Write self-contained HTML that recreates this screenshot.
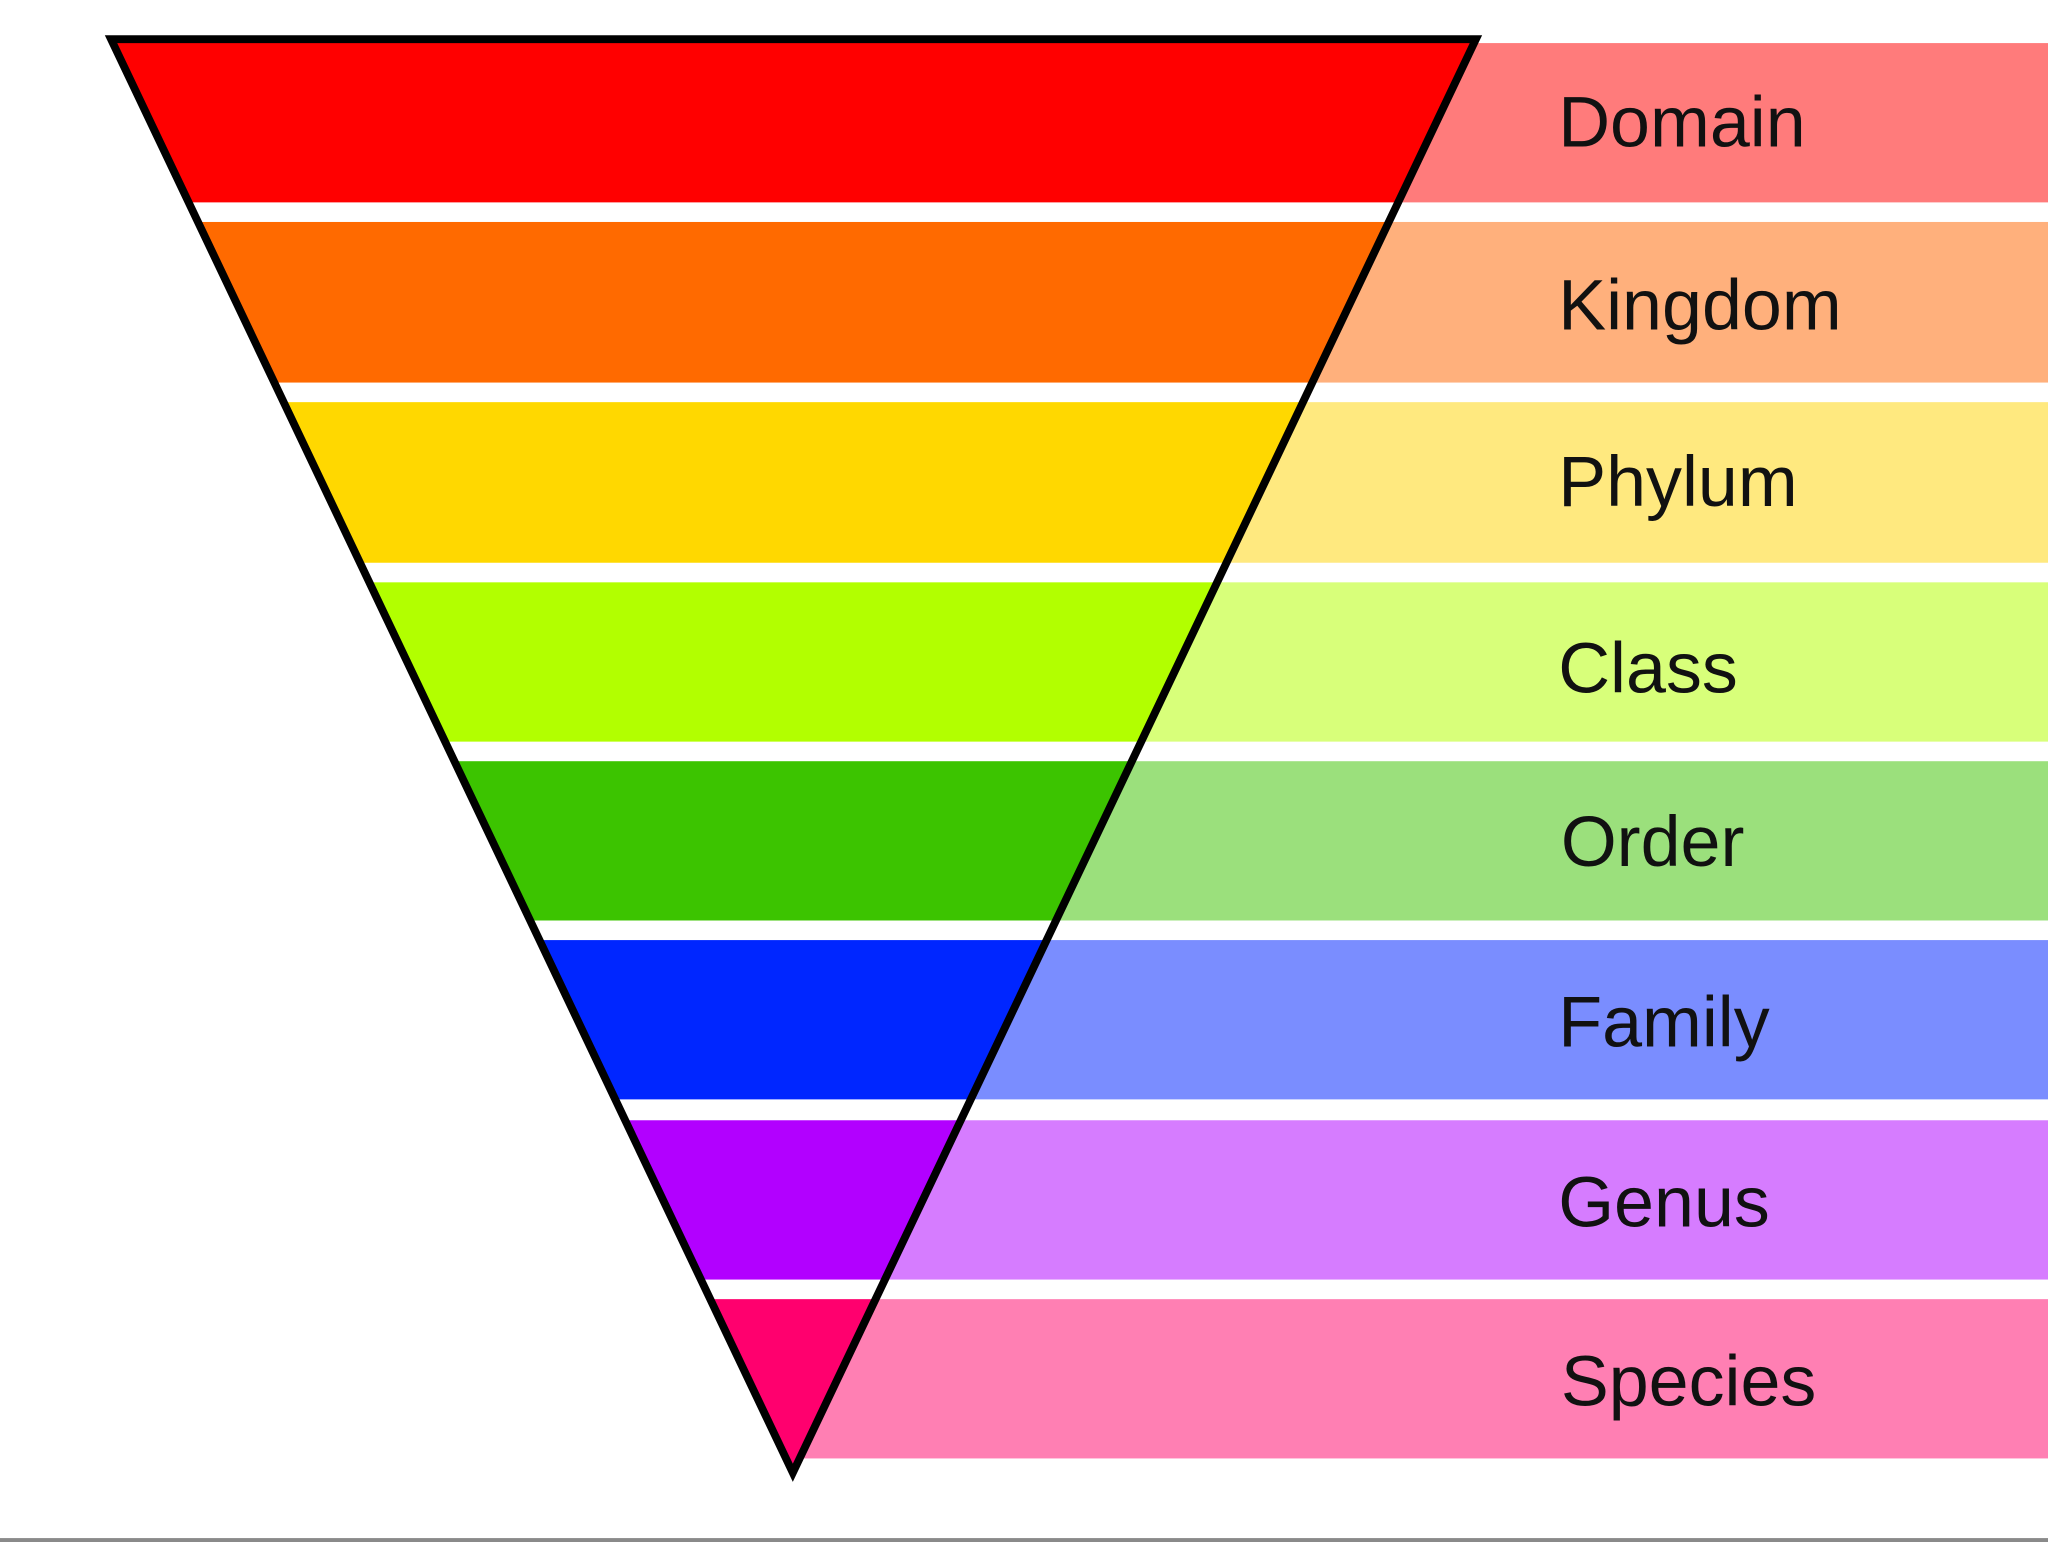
<!DOCTYPE html>
<html><head><meta charset="utf-8"><style>html,body{margin:0;padding:0;background:#fff}svg{display:block}</style></head>
<body>
<svg width="2048" height="1542" viewBox="0 0 1568 1181" preserveAspectRatio="none" xmlns="http://www.w3.org/2000/svg">
<defs><clipPath id="tri"><polygon points="85,30 1130,30 607,1128"/></clipPath></defs>
<rect width="1568" height="1181" fill="#fff"/>
<g>
<rect x="600" y="33" width="968" height="122" fill="#ff7b7b"/>
<rect x="600" y="170" width="968" height="123" fill="#ffb07c"/>
<rect x="600" y="308" width="968" height="123" fill="#ffe97f"/>
<rect x="600" y="446" width="968" height="122" fill="#d8ff7a"/>
<rect x="600" y="583" width="968" height="122" fill="#9be07c"/>
<rect x="600" y="720" width="968" height="122" fill="#7a8dff"/>
<rect x="600" y="858" width="968" height="122" fill="#d67cff"/>
<rect x="600" y="995" width="968" height="122" fill="#ff7fb3"/>
</g>
<polygon points="85,30 1130,30 607,1128" fill="#fff"/>
<g clip-path="url(#tri)">
<rect x="0" y="0" width="1200" height="155" fill="#ff0000"/>
<rect x="0" y="170" width="1200" height="123" fill="#ff6a00"/>
<rect x="0" y="308" width="1200" height="123" fill="#ffd800"/>
<rect x="0" y="446" width="1200" height="122" fill="#b2ff00"/>
<rect x="0" y="583" width="1200" height="122" fill="#3cc400"/>
<rect x="0" y="720" width="1200" height="122" fill="#0026ff"/>
<rect x="0" y="858" width="1200" height="122" fill="#b200ff"/>
<rect x="0" y="995" width="1200" height="140" fill="#ff006e"/>
</g>
<polygon points="85,30 1130,30 607,1128" fill="none" stroke="#000" stroke-width="6" stroke-linejoin="miter"/>
<g font-family="Liberation Sans, sans-serif" font-size="55" fill="#111" dominant-baseline="central">
<text x="1193" y="94">Domain</text>
<text x="1193" y="234">Kingdom</text>
<text x="1193" y="369">Phylum</text>
<text x="1193" y="512">Class</text>
<text x="1195" y="645">Order</text>
<text x="1193" y="783">Family</text>
<text x="1193" y="921">Genus</text>
<text x="1195" y="1058">Species</text>
</g>
<rect x="0" y="1178" width="1568" height="3" fill="#8a8a8a"/>
</svg>
</body></html>
